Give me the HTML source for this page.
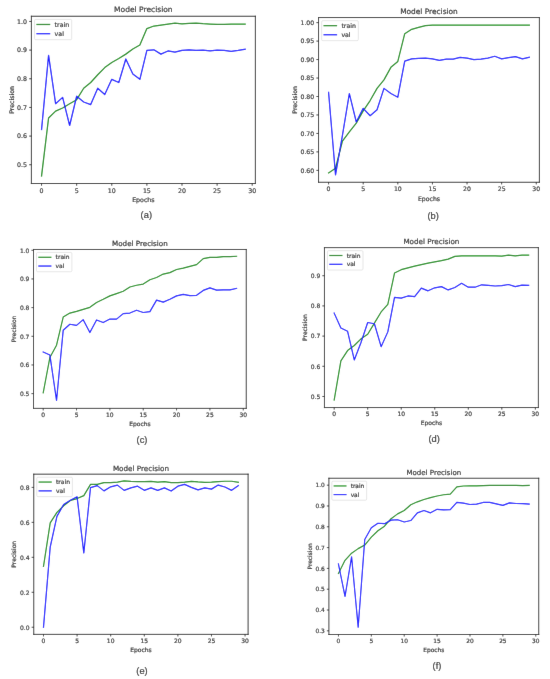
<!DOCTYPE html>
<html><head><meta charset="utf-8"><title>Model Precision</title>
<style>html,body{margin:0;padding:0;background:#fff;width:550px;height:679px;overflow:hidden}svg{display:block}#w{width:550px;height:679px}svg text{stroke:#303030;stroke-width:0.2px}</style>
</head><body><div id="w">
<svg width="550" height="679" viewBox="0 0 550 679"><filter id="bl" x="0" y="0" width="550" height="679" filterUnits="userSpaceOnUse"><feConvolveMatrix order="3" kernelMatrix="0.0028 0.0470 0.0028 0.0470 0.8008 0.0470 0.0028 0.0470 0.0028" edgeMode="duplicate"/></filter><g filter="url(#bl)">
<defs>
<style type="text/css">*{stroke-linejoin: round; stroke-linecap: butt}</style>
</defs>
<g id="figure_1">
<g id="patch_1">
<path d="M 0 679
L 550 679
L 550 0
L 0 0
z
" style="fill: #ffffff"/>
</g>
<g id="axes_1">
<g id="patch_2">
<path d="M 31.38 183.53
L 255.36 183.53
L 255.36 16.25
L 31.38 16.25
z
" style="fill: #ffffff"/>
</g>
<g id="matplotlib.axis_1">
<g id="xtick_1">
<g id="line2d_1">
<g>
<line x1="41.561" y1="183.530" x2="41.561" y2="185.728" style="stroke: #000000; stroke-width: 0.753475"/>
</g>
</g>
<g id="text_1">
<text style="font-size: 6.278958px; font-family: 'DejaVu Sans'; text-anchor: middle; fill: #303030" x="41.560909" y="192.696298" transform="rotate(-0 41.560909 192.696298)">0</text>
</g>
</g>
<g id="xtick_2">
<g id="line2d_2">
<g>
<line x1="76.667" y1="183.530" x2="76.667" y2="185.728" style="stroke: #000000; stroke-width: 0.753475"/>
</g>
</g>
<g id="text_2">
<text style="font-size: 6.278958px; font-family: 'DejaVu Sans'; text-anchor: middle; fill: #303030" x="76.667492" y="192.696298" transform="rotate(-0 76.667492 192.696298)">5</text>
</g>
</g>
<g id="xtick_3">
<g id="line2d_3">
<g>
<line x1="111.774" y1="183.530" x2="111.774" y2="185.728" style="stroke: #000000; stroke-width: 0.753475"/>
</g>
</g>
<g id="text_3">
<text style="font-size: 6.278958px; font-family: 'DejaVu Sans'; text-anchor: middle; fill: #303030" x="111.774075" y="192.696298" transform="rotate(-0 111.774075 192.696298)">10</text>
</g>
</g>
<g id="xtick_4">
<g id="line2d_4">
<g>
<line x1="146.881" y1="183.530" x2="146.881" y2="185.728" style="stroke: #000000; stroke-width: 0.753475"/>
</g>
</g>
<g id="text_4">
<text style="font-size: 6.278958px; font-family: 'DejaVu Sans'; text-anchor: middle; fill: #303030" x="146.880658" y="192.696298" transform="rotate(-0 146.880658 192.696298)">15</text>
</g>
</g>
<g id="xtick_5">
<g id="line2d_5">
<g>
<line x1="181.987" y1="183.530" x2="181.987" y2="185.728" style="stroke: #000000; stroke-width: 0.753475"/>
</g>
</g>
<g id="text_5">
<text style="font-size: 6.278958px; font-family: 'DejaVu Sans'; text-anchor: middle; fill: #303030" x="181.987241" y="192.696298" transform="rotate(-0 181.987241 192.696298)">20</text>
</g>
</g>
<g id="xtick_6">
<g id="line2d_6">
<g>
<line x1="217.094" y1="183.530" x2="217.094" y2="185.728" style="stroke: #000000; stroke-width: 0.753475"/>
</g>
</g>
<g id="text_6">
<text style="font-size: 6.278958px; font-family: 'DejaVu Sans'; text-anchor: middle; fill: #303030" x="217.093824" y="192.696298" transform="rotate(-0 217.093824 192.696298)">25</text>
</g>
</g>
<g id="xtick_7">
<g id="line2d_7">
<g>
<line x1="252.200" y1="183.530" x2="252.200" y2="185.728" style="stroke: #000000; stroke-width: 0.753475"/>
</g>
</g>
<g id="text_7">
<text style="font-size: 6.278958px; font-family: 'DejaVu Sans'; text-anchor: middle; fill: #303030" x="252.200408" y="192.696298" transform="rotate(-0 252.200408 192.696298)">30</text>
</g>
</g>
<g id="text_8">
<text style="font-size: 6.278958px; font-family: 'DejaVu Sans'; text-anchor: middle; fill: #303030" x="143.37" y="202.284735" transform="rotate(-0 143.37 202.284735)">Epochs</text>
</g>
</g>
<g id="matplotlib.axis_2">
<g id="ytick_1">
<g id="line2d_8">
<g>
<line x1="31.380" y1="164.749" x2="29.182" y2="164.749" style="stroke: #000000; stroke-width: 0.753475"/>
</g>
</g>
<g id="text_9">
<text style="font-size: 6.278958px; font-family: 'DejaVu Sans'; text-anchor: end; fill: #303030" x="26.984729" y="167.134596" transform="rotate(-0 26.984729 167.134596)">0.5</text>
</g>
</g>
<g id="ytick_2">
<g id="line2d_9">
<g>
<line x1="31.380" y1="136.089" x2="29.182" y2="136.089" style="stroke: #000000; stroke-width: 0.753475"/>
</g>
</g>
<g id="text_10">
<text style="font-size: 6.278958px; font-family: 'DejaVu Sans'; text-anchor: end; fill: #303030" x="26.984729" y="138.474565" transform="rotate(-0 26.984729 138.474565)">0.6</text>
</g>
</g>
<g id="ytick_3">
<g id="line2d_10">
<g>
<line x1="31.380" y1="107.429" x2="29.182" y2="107.429" style="stroke: #000000; stroke-width: 0.753475"/>
</g>
</g>
<g id="text_11">
<text style="font-size: 6.278958px; font-family: 'DejaVu Sans'; text-anchor: end; fill: #303030" x="26.984729" y="109.814535" transform="rotate(-0 26.984729 109.814535)">0.7</text>
</g>
</g>
<g id="ytick_4">
<g id="line2d_11">
<g>
<line x1="31.380" y1="78.769" x2="29.182" y2="78.769" style="stroke: #000000; stroke-width: 0.753475"/>
</g>
</g>
<g id="text_12">
<text style="font-size: 6.278958px; font-family: 'DejaVu Sans'; text-anchor: end; fill: #303030" x="26.984729" y="81.154504" transform="rotate(-0 26.984729 81.154504)">0.8</text>
</g>
</g>
<g id="ytick_5">
<g id="line2d_12">
<g>
<line x1="31.380" y1="50.109" x2="29.182" y2="50.109" style="stroke: #000000; stroke-width: 0.753475"/>
</g>
</g>
<g id="text_13">
<text style="font-size: 6.278958px; font-family: 'DejaVu Sans'; text-anchor: end; fill: #303030" x="26.984729" y="52.494474" transform="rotate(-0 26.984729 52.494474)">0.9</text>
</g>
</g>
<g id="ytick_6">
<g id="line2d_13">
<g>
<line x1="31.380" y1="21.449" x2="29.182" y2="21.449" style="stroke: #000000; stroke-width: 0.753475"/>
</g>
</g>
<g id="text_14">
<text style="font-size: 6.278958px; font-family: 'DejaVu Sans'; text-anchor: end; fill: #303030" x="26.984729" y="23.834443" transform="rotate(-0 26.984729 23.834443)">1.0</text>
</g>
</g>
<g id="text_15">
<text style="font-size: 6.278958px; font-family: 'DejaVu Sans'; text-anchor: middle; fill: #303030" x="13.581813" y="99.89" transform="rotate(-90 13.581813 99.89)">Precision</text>
</g>
</g>
<g id="line2d_14">
<path d="M 41.560909 175.926494
L 48.582226 118.033232
L 55.603542 111.154825
L 62.624859 108.002222
L 69.646176 103.703217
L 76.667492 99.690813
L 83.688809 88.226801
L 90.710125 82.494794
L 97.731442 74.756586
L 104.752759 67.591579
L 111.774075 62.432773
L 118.795392 58.420369
L 125.816708 54.121364
L 132.838025 48.962559
L 139.859342 44.950155
L 146.880658 28.613937
L 153.901975 26.034534
L 160.923292 25.031433
L 167.944608 24.171632
L 174.965925 23.168531
L 181.987241 23.885032
L 189.008558 23.311832
L 196.029875 23.168531
L 203.051191 23.741732
L 210.072508 24.028332
L 217.093824 24.314933
L 224.115141 24.314933
L 231.136458 24.028332
L 238.157774 24.028332
L 245.179091 24.028332
" clip-path="url(#p39e937fc63)" style="fill: none; stroke: #148c14; stroke-width: 1.255792; stroke-linecap: square"/>
</g>
<g id="line2d_15">
<path d="M 41.560909 129.497245
L 48.582226 55.267766
L 55.603542 103.703217
L 62.624859 97.39801
L 69.646176 125.48484
L 76.667492 96.251609
L 83.688809 101.983615
L 90.710125 104.563018
L 97.731442 88.226801
L 104.752759 94.532007
L 111.774075 79.342191
L 118.795392 82.494794
L 125.816708 58.993569
L 132.838025 73.896785
L 139.859342 79.342191
L 146.880658 50.39556
L 153.901975 49.82236
L 160.923292 54.121364
L 167.944608 50.968761
L 174.965925 52.115162
L 181.987241 50.39556
L 189.008558 49.82236
L 196.029875 50.39556
L 203.051191 50.10896
L 210.072508 50.968761
L 217.093824 50.10896
L 224.115141 50.39556
L 231.136458 51.255361
L 238.157774 50.39556
L 245.179091 49.249159
" clip-path="url(#p39e937fc63)" style="fill: none; stroke: #0a0aff; stroke-width: 1.255792; stroke-linecap: square"/>
</g>
<g id="patch_3">
<path d="M 31.38 183.53
L 31.38 16.25
" style="fill: none; stroke: #000000; stroke-width: 0.816265; stroke-linejoin: miter; stroke-linecap: square"/>
</g>
<g id="patch_4">
<path d="M 255.36 183.53
L 255.36 16.25
" style="fill: none; stroke: #000000; stroke-width: 0.816265; stroke-linejoin: miter; stroke-linecap: square"/>
</g>
<g id="patch_5">
<path d="M 31.38 183.53
L 255.36 183.53
" style="fill: none; stroke: #000000; stroke-width: 0.816265; stroke-linejoin: miter; stroke-linecap: square"/>
</g>
<g id="patch_6">
<path d="M 31.38 16.25
L 255.36 16.25
" style="fill: none; stroke: #000000; stroke-width: 0.816265; stroke-linejoin: miter; stroke-linecap: square"/>
</g>
<g id="text_16">
<text style="font-size: 7.53475px; font-family: 'DejaVu Sans'; text-anchor: middle; fill: #303030" x="143.37" y="12.482625" transform="rotate(-0 143.37 12.482625)">Model Precision</text>
</g>
<g id="legend_1">
<g id="patch_7">
<path d="M 35.775271 39.705833
L 70.482212 39.705833
Q 71.738004 39.705833 71.738004 38.450042
L 71.738004 20.645271
Q 71.738004 19.389479 70.482212 19.389479
L 35.775271 19.389479
Q 34.519479 19.389479 34.519479 20.645271
L 34.519479 38.450042
Q 34.519479 39.705833 35.775271 39.705833
z
" style="fill: #ffffff; opacity: 0.8; stroke: #cccccc; stroke-width: 0.627896; stroke-linejoin: miter"/>
</g>
<g id="line2d_16">
<path d="M 37.031062 24.474454
L 43.310021 24.474454
L 49.588979 24.474454
" style="fill: none; stroke: #148c14; stroke-width: 1.255792; stroke-linecap: square"/>
</g>
<g id="text_17">
<text style="font-size: 6.278958px; font-family: 'DejaVu Sans'; text-anchor: start; fill: #303030" x="54.612145" y="26.67209" transform="rotate(-0 54.612145 26.67209)">train</text>
</g>
<g id="line2d_17">
<path d="M 37.031062 33.690788
L 43.310021 33.690788
L 49.588979 33.690788
" style="fill: none; stroke: #0a0aff; stroke-width: 1.255792; stroke-linecap: square"/>
</g>
<g id="text_18">
<text style="font-size: 6.278958px; font-family: 'DejaVu Sans'; text-anchor: start; fill: #303030" x="54.612145" y="35.888423" transform="rotate(-0 54.612145 35.888423)">val</text>
</g>
</g>
</g>
<g id="axes_2">
<g id="patch_8">
<path d="M 318.55 182.27
L 539.38 182.27
L 539.38 17.56
L 318.55 17.56
z
" style="fill: #ffffff"/>
</g>
<g id="matplotlib.axis_3">
<g id="xtick_8">
<g id="line2d_18">
<g>
<line x1="328.588" y1="182.270" x2="328.588" y2="184.435" style="stroke: #000000; stroke-width: 0.742388"/>
</g>
</g>
<g id="text_19">
<text style="font-size: 6.186567px; font-family: 'DejaVu Sans'; text-anchor: middle; fill: #303030" x="328.587727" y="191.301422" transform="rotate(-0 328.587727 191.301422)">0</text>
</g>
</g>
<g id="xtick_9">
<g id="line2d_19">
<g>
<line x1="363.201" y1="182.270" x2="363.201" y2="184.435" style="stroke: #000000; stroke-width: 0.742388"/>
</g>
</g>
<g id="text_20">
<text style="font-size: 6.186567px; font-family: 'DejaVu Sans'; text-anchor: middle; fill: #303030" x="363.20058" y="191.301422" transform="rotate(-0 363.20058 191.301422)">5</text>
</g>
</g>
<g id="xtick_10">
<g id="line2d_20">
<g>
<line x1="397.813" y1="182.270" x2="397.813" y2="184.435" style="stroke: #000000; stroke-width: 0.742388"/>
</g>
</g>
<g id="text_21">
<text style="font-size: 6.186567px; font-family: 'DejaVu Sans'; text-anchor: middle; fill: #303030" x="397.813433" y="191.301422" transform="rotate(-0 397.813433 191.301422)">10</text>
</g>
</g>
<g id="xtick_11">
<g id="line2d_21">
<g>
<line x1="432.426" y1="182.270" x2="432.426" y2="184.435" style="stroke: #000000; stroke-width: 0.742388"/>
</g>
</g>
<g id="text_22">
<text style="font-size: 6.186567px; font-family: 'DejaVu Sans'; text-anchor: middle; fill: #303030" x="432.426285" y="191.301422" transform="rotate(-0 432.426285 191.301422)">15</text>
</g>
</g>
<g id="xtick_12">
<g id="line2d_22">
<g>
<line x1="467.039" y1="182.270" x2="467.039" y2="184.435" style="stroke: #000000; stroke-width: 0.742388"/>
</g>
</g>
<g id="text_23">
<text style="font-size: 6.186567px; font-family: 'DejaVu Sans'; text-anchor: middle; fill: #303030" x="467.039138" y="191.301422" transform="rotate(-0 467.039138 191.301422)">20</text>
</g>
</g>
<g id="xtick_13">
<g id="line2d_23">
<g>
<line x1="501.652" y1="182.270" x2="501.652" y2="184.435" style="stroke: #000000; stroke-width: 0.742388"/>
</g>
</g>
<g id="text_24">
<text style="font-size: 6.186567px; font-family: 'DejaVu Sans'; text-anchor: middle; fill: #303030" x="501.651991" y="191.301422" transform="rotate(-0 501.651991 191.301422)">25</text>
</g>
</g>
<g id="xtick_14">
<g id="line2d_24">
<g>
<line x1="536.265" y1="182.270" x2="536.265" y2="184.435" style="stroke: #000000; stroke-width: 0.742388"/>
</g>
</g>
<g id="text_25">
<text style="font-size: 6.186567px; font-family: 'DejaVu Sans'; text-anchor: middle; fill: #303030" x="536.264843" y="191.301422" transform="rotate(-0 536.264843 191.301422)">30</text>
</g>
</g>
<g id="text_26">
<text style="font-size: 6.186567px; font-family: 'DejaVu Sans'; text-anchor: middle; fill: #303030" x="428.965" y="200.763486" transform="rotate(-0 428.965 200.763486)">Epochs</text>
</g>
</g>
<g id="matplotlib.axis_4">
<g id="ytick_7">
<g id="line2d_25">
<g>
<line x1="318.550" y1="170.360" x2="316.385" y2="170.360" style="stroke: #000000; stroke-width: 0.742388"/>
</g>
</g>
<g id="text_27">
<text style="font-size: 6.186567px; font-family: 'DejaVu Sans'; text-anchor: end; fill: #303030" x="314.219403" y="172.710595" transform="rotate(-0 314.219403 172.710595)">0.60</text>
</g>
</g>
<g id="ytick_8">
<g id="line2d_26">
<g>
<line x1="318.550" y1="151.895" x2="316.385" y2="151.895" style="stroke: #000000; stroke-width: 0.742388"/>
</g>
</g>
<g id="text_28">
<text style="font-size: 6.186567px; font-family: 'DejaVu Sans'; text-anchor: end; fill: #303030" x="314.219403" y="154.245763" transform="rotate(-0 314.219403 154.245763)">0.65</text>
</g>
</g>
<g id="ytick_9">
<g id="line2d_27">
<g>
<line x1="318.550" y1="133.431" x2="316.385" y2="133.431" style="stroke: #000000; stroke-width: 0.742388"/>
</g>
</g>
<g id="text_29">
<text style="font-size: 6.186567px; font-family: 'DejaVu Sans'; text-anchor: end; fill: #303030" x="314.219403" y="135.78093" transform="rotate(-0 314.219403 135.78093)">0.70</text>
</g>
</g>
<g id="ytick_10">
<g id="line2d_28">
<g>
<line x1="318.550" y1="114.966" x2="316.385" y2="114.966" style="stroke: #000000; stroke-width: 0.742388"/>
</g>
</g>
<g id="text_30">
<text style="font-size: 6.186567px; font-family: 'DejaVu Sans'; text-anchor: end; fill: #303030" x="314.219403" y="117.316097" transform="rotate(-0 314.219403 117.316097)">0.75</text>
</g>
</g>
<g id="ytick_11">
<g id="line2d_29">
<g>
<line x1="318.550" y1="96.501" x2="316.385" y2="96.501" style="stroke: #000000; stroke-width: 0.742388"/>
</g>
</g>
<g id="text_31">
<text style="font-size: 6.186567px; font-family: 'DejaVu Sans'; text-anchor: end; fill: #303030" x="314.219403" y="98.851265" transform="rotate(-0 314.219403 98.851265)">0.80</text>
</g>
</g>
<g id="ytick_12">
<g id="line2d_30">
<g>
<line x1="318.550" y1="78.036" x2="316.385" y2="78.036" style="stroke: #000000; stroke-width: 0.742388"/>
</g>
</g>
<g id="text_32">
<text style="font-size: 6.186567px; font-family: 'DejaVu Sans'; text-anchor: end; fill: #303030" x="314.219403" y="80.386432" transform="rotate(-0 314.219403 80.386432)">0.85</text>
</g>
</g>
<g id="ytick_13">
<g id="line2d_31">
<g>
<line x1="318.550" y1="59.571" x2="316.385" y2="59.571" style="stroke: #000000; stroke-width: 0.742388"/>
</g>
</g>
<g id="text_33">
<text style="font-size: 6.186567px; font-family: 'DejaVu Sans'; text-anchor: end; fill: #303030" x="314.219403" y="61.9216" transform="rotate(-0 314.219403 61.9216)">0.90</text>
</g>
</g>
<g id="ytick_14">
<g id="line2d_32">
<g>
<line x1="318.550" y1="41.106" x2="316.385" y2="41.106" style="stroke: #000000; stroke-width: 0.742388"/>
</g>
</g>
<g id="text_34">
<text style="font-size: 6.186567px; font-family: 'DejaVu Sans'; text-anchor: end; fill: #303030" x="314.219403" y="43.456767" transform="rotate(-0 314.219403 43.456767)">0.95</text>
</g>
</g>
<g id="ytick_15">
<g id="line2d_33">
<g>
<line x1="318.550" y1="22.642" x2="316.385" y2="22.642" style="stroke: #000000; stroke-width: 0.742388"/>
</g>
</g>
<g id="text_35">
<text style="font-size: 6.186567px; font-family: 'DejaVu Sans'; text-anchor: end; fill: #303030" x="314.219403" y="24.991934" transform="rotate(-0 314.219403 24.991934)">1.00</text>
</g>
</g>
<g id="text_36">
<text style="font-size: 6.186567px; font-family: 'DejaVu Sans'; text-anchor: middle; fill: #303030" x="296.683384" y="99.915" transform="rotate(-90 296.683384 99.915)">Precision</text>
</g>
</g>
<g id="line2d_34">
<path d="M 328.587727 172.94526
L 335.510298 168.144403
L 342.432868 141.185747
L 349.355439 131.953331
L 356.278009 123.090211
L 363.20058 110.903422
L 370.12315 100.563116
L 377.045721 88.376326
L 383.968292 79.882503
L 390.890862 67.326417
L 397.813433 61.41767
L 404.736003 33.720422
L 411.658574 29.288862
L 418.581144 27.442378
L 425.503715 25.595895
L 432.426285 25.226599
L 439.348856 25.226599
L 446.271426 25.226599
L 453.193997 25.226599
L 460.116567 25.226599
L 467.039138 25.226599
L 473.961708 25.226599
L 480.884279 25.226599
L 487.80685 25.226599
L 494.72942 25.226599
L 501.651991 25.226599
L 508.574561 25.226599
L 515.497132 25.226599
L 522.419702 25.226599
L 529.342273 25.226599
" clip-path="url(#pbb9176d146)" style="fill: none; stroke: #148c14; stroke-width: 1.237313; stroke-linecap: square"/>
</g>
<g id="line2d_35">
<path d="M 328.587727 92.438589
L 335.510298 174.791743
L 342.432868 135.277001
L 349.355439 93.546479
L 356.278009 121.982321
L 363.20058 108.318345
L 370.12315 115.704278
L 377.045721 109.795532
L 383.968292 88.376326
L 390.890862 93.546479
L 397.813433 97.239446
L 404.736003 61.048374
L 411.658574 58.832594
L 418.581144 58.463297
L 425.503715 58.094001
L 432.426285 58.832594
L 439.348856 60.30978
L 446.271426 59.201891
L 453.193997 59.201891
L 460.116567 57.355407
L 467.039138 58.094001
L 473.961708 59.571187
L 480.884279 59.201891
L 487.80685 58.094001
L 494.72942 56.247517
L 501.651991 58.832594
L 508.574561 57.724704
L 515.497132 56.616814
L 522.419702 58.832594
L 529.342273 57.355407
" clip-path="url(#pbb9176d146)" style="fill: none; stroke: #0a0aff; stroke-width: 1.237313; stroke-linecap: square"/>
</g>
<g id="patch_9">
<path d="M 318.55 182.27
L 318.55 17.56
" style="fill: none; stroke: #000000; stroke-width: 0.804254; stroke-linejoin: miter; stroke-linecap: square"/>
</g>
<g id="patch_10">
<path d="M 539.38 182.27
L 539.38 17.56
" style="fill: none; stroke: #000000; stroke-width: 0.804254; stroke-linejoin: miter; stroke-linecap: square"/>
</g>
<g id="patch_11">
<path d="M 318.55 182.27
L 539.38 182.27
" style="fill: none; stroke: #000000; stroke-width: 0.804254; stroke-linejoin: miter; stroke-linecap: square"/>
</g>
<g id="patch_12">
<path d="M 318.55 17.56
L 539.38 17.56
" style="fill: none; stroke: #000000; stroke-width: 0.804254; stroke-linejoin: miter; stroke-linecap: square"/>
</g>
<g id="text_37">
<text style="font-size: 7.423881px; font-family: 'DejaVu Sans'; text-anchor: middle; fill: #303030" x="428.965" y="13.84806" transform="rotate(-0 428.965 13.84806)">Model Precision</text>
</g>
<g id="legend_2">
<g id="patch_13">
<path d="M 322.880597 40.670696
L 357.076849 40.670696
Q 358.314162 40.670696 358.314162 39.433383
L 358.314162 21.890597
Q 358.314162 20.653284 357.076849 20.653284
L 322.880597 20.653284
Q 321.643284 20.653284 321.643284 21.890597
L 321.643284 39.433383
Q 321.643284 40.670696 322.880597 40.670696
z
" style="fill: #ffffff; opacity: 0.8; stroke: #cccccc; stroke-width: 0.618657; stroke-linejoin: miter"/>
</g>
<g id="line2d_36">
<path d="M 324.117911 25.663437
L 330.304478 25.663437
L 336.491046 25.663437
" style="fill: none; stroke: #148c14; stroke-width: 1.237313; stroke-linecap: square"/>
</g>
<g id="text_38">
<text style="font-size: 6.186567px; font-family: 'DejaVu Sans'; text-anchor: start; fill: #303030" x="341.4403" y="27.828735" transform="rotate(-0 341.4403 27.828735)">train</text>
</g>
<g id="line2d_37">
<path d="M 324.117911 34.744158
L 330.304478 34.744158
L 336.491046 34.744158
" style="fill: none; stroke: #0a0aff; stroke-width: 1.237313; stroke-linecap: square"/>
</g>
<g id="text_39">
<text style="font-size: 6.186567px; font-family: 'DejaVu Sans'; text-anchor: start; fill: #303030" x="341.4403" y="36.909456" transform="rotate(-0 341.4403 36.909456)">val</text>
</g>
</g>
</g>
<g id="axes_3">
<g id="patch_14">
<path d="M 33.53 408.36
L 246.25 408.36
L 246.25 249.47
L 33.53 249.47
z
" style="fill: #ffffff"/>
</g>
<g id="matplotlib.axis_5">
<g id="xtick_15">
<g id="line2d_38">
<g>
<line x1="43.199" y1="408.360" x2="43.199" y2="410.447" style="stroke: #000000; stroke-width: 0.71564"/>
</g>
</g>
<g id="text_40">
<text style="font-size: 5.963668px; font-family: 'DejaVu Sans'; text-anchor: middle; fill: #303030" x="43.199091" y="417.066023" transform="rotate(-0 43.199091 417.066023)">0</text>
</g>
</g>
<g id="xtick_16">
<g id="line2d_39">
<g>
<line x1="76.541" y1="408.360" x2="76.541" y2="410.447" style="stroke: #000000; stroke-width: 0.71564"/>
</g>
</g>
<g id="text_41">
<text style="font-size: 5.963668px; font-family: 'DejaVu Sans'; text-anchor: middle; fill: #303030" x="76.540784" y="417.066023" transform="rotate(-0 76.540784 417.066023)">5</text>
</g>
</g>
<g id="xtick_17">
<g id="line2d_40">
<g>
<line x1="109.882" y1="408.360" x2="109.882" y2="410.447" style="stroke: #000000; stroke-width: 0.71564"/>
</g>
</g>
<g id="text_42">
<text style="font-size: 5.963668px; font-family: 'DejaVu Sans'; text-anchor: middle; fill: #303030" x="109.882476" y="417.066023" transform="rotate(-0 109.882476 417.066023)">10</text>
</g>
</g>
<g id="xtick_18">
<g id="line2d_41">
<g>
<line x1="143.224" y1="408.360" x2="143.224" y2="410.447" style="stroke: #000000; stroke-width: 0.71564"/>
</g>
</g>
<g id="text_43">
<text style="font-size: 5.963668px; font-family: 'DejaVu Sans'; text-anchor: middle; fill: #303030" x="143.224169" y="417.066023" transform="rotate(-0 143.224169 417.066023)">15</text>
</g>
</g>
<g id="xtick_19">
<g id="line2d_42">
<g>
<line x1="176.566" y1="408.360" x2="176.566" y2="410.447" style="stroke: #000000; stroke-width: 0.71564"/>
</g>
</g>
<g id="text_44">
<text style="font-size: 5.963668px; font-family: 'DejaVu Sans'; text-anchor: middle; fill: #303030" x="176.565862" y="417.066023" transform="rotate(-0 176.565862 417.066023)">20</text>
</g>
</g>
<g id="xtick_20">
<g id="line2d_43">
<g>
<line x1="209.908" y1="408.360" x2="209.908" y2="410.447" style="stroke: #000000; stroke-width: 0.71564"/>
</g>
</g>
<g id="text_45">
<text style="font-size: 5.963668px; font-family: 'DejaVu Sans'; text-anchor: middle; fill: #303030" x="209.907555" y="417.066023" transform="rotate(-0 209.907555 417.066023)">25</text>
</g>
</g>
<g id="xtick_21">
<g id="line2d_44">
<g>
<line x1="243.249" y1="408.360" x2="243.249" y2="410.447" style="stroke: #000000; stroke-width: 0.71564"/>
</g>
</g>
<g id="text_46">
<text style="font-size: 5.963668px; font-family: 'DejaVu Sans'; text-anchor: middle; fill: #303030" x="243.249248" y="417.066023" transform="rotate(-0 243.249248 417.066023)">30</text>
</g>
</g>
<g id="text_47">
<text style="font-size: 5.963668px; font-family: 'DejaVu Sans'; text-anchor: middle; fill: #303030" x="139.89" y="425.623202" transform="rotate(-0 139.89 425.623202)">Epochs</text>
</g>
</g>
<g id="matplotlib.axis_6">
<g id="ytick_16">
<g id="line2d_45">
<g>
<line x1="33.530" y1="393.639" x2="31.443" y2="393.639" style="stroke: #000000; stroke-width: 0.71564"/>
</g>
</g>
<g id="text_48">
<text style="font-size: 5.963668px; font-family: 'DejaVu Sans'; text-anchor: end; fill: #303030" x="29.355433" y="395.904611" transform="rotate(-0 29.355433 395.904611)">0.5</text>
</g>
</g>
<g id="ytick_17">
<g id="line2d_46">
<g>
<line x1="33.530" y1="364.965" x2="31.443" y2="364.965" style="stroke: #000000; stroke-width: 0.71564"/>
</g>
</g>
<g id="text_49">
<text style="font-size: 5.963668px; font-family: 'DejaVu Sans'; text-anchor: end; fill: #303030" x="29.355433" y="367.230834" transform="rotate(-0 29.355433 367.230834)">0.6</text>
</g>
</g>
<g id="ytick_18">
<g id="line2d_47">
<g>
<line x1="33.530" y1="336.291" x2="31.443" y2="336.291" style="stroke: #000000; stroke-width: 0.71564"/>
</g>
</g>
<g id="text_50">
<text style="font-size: 5.963668px; font-family: 'DejaVu Sans'; text-anchor: end; fill: #303030" x="29.355433" y="338.557057" transform="rotate(-0 29.355433 338.557057)">0.7</text>
</g>
</g>
<g id="ytick_19">
<g id="line2d_48">
<g>
<line x1="33.530" y1="307.618" x2="31.443" y2="307.618" style="stroke: #000000; stroke-width: 0.71564"/>
</g>
</g>
<g id="text_51">
<text style="font-size: 5.963668px; font-family: 'DejaVu Sans'; text-anchor: end; fill: #303030" x="29.355433" y="309.88328" transform="rotate(-0 29.355433 309.88328)">0.8</text>
</g>
</g>
<g id="ytick_20">
<g id="line2d_49">
<g>
<line x1="33.530" y1="278.944" x2="31.443" y2="278.944" style="stroke: #000000; stroke-width: 0.71564"/>
</g>
</g>
<g id="text_52">
<text style="font-size: 5.963668px; font-family: 'DejaVu Sans'; text-anchor: end; fill: #303030" x="29.355433" y="281.209503" transform="rotate(-0 29.355433 281.209503)">0.9</text>
</g>
</g>
<g id="ytick_21">
<g id="line2d_50">
<g>
<line x1="33.530" y1="250.270" x2="31.443" y2="250.270" style="stroke: #000000; stroke-width: 0.71564"/>
</g>
</g>
<g id="text_53">
<text style="font-size: 5.963668px; font-family: 'DejaVu Sans'; text-anchor: end; fill: #303030" x="29.355433" y="252.535726" transform="rotate(-0 29.355433 252.535726)">1.0</text>
</g>
</g>
<g id="text_54">
<text style="font-size: 5.963668px; font-family: 'DejaVu Sans'; text-anchor: middle; fill: #303030" x="16.245614" y="328.915" transform="rotate(-90 16.245614 328.915)">Precision</text>
</g>
</g>
<g id="line2d_51">
<path d="M 43.199091 392.77867
L 49.867429 357.509924
L 56.535768 345.1802
L 63.204107 317.079899
L 69.872445 313.06557
L 76.540784 311.345143
L 83.209122 309.337979
L 89.877461 307.330814
L 96.545799 302.456272
L 103.214138 299.302157
L 109.882476 295.861304
L 116.550815 293.567402
L 123.219154 291.273499
L 129.887492 286.972433
L 136.555831 285.252006
L 143.224169 284.105055
L 149.892508 279.803989
L 156.560846 277.510086
L 163.229185 274.069233
L 169.897524 272.635544
L 176.565862 269.481429
L 183.234201 268.04774
L 189.902539 266.327313
L 196.570878 264.606887
L 203.239216 258.585394
L 209.907555 257.438443
L 216.575893 257.438443
L 223.244232 256.578229
L 229.912571 256.578229
L 236.580909 256.291492
" clip-path="url(#p3941dd5a0d)" style="fill: none; stroke: #148c14; stroke-width: 1.192734; stroke-linecap: square"/>
</g>
<g id="line2d_52">
<path d="M 43.199091 352.061906
L 49.867429 354.929284
L 56.535768 400.520589
L 63.204107 330.269836
L 69.872445 324.248343
L 76.540784 325.395294
L 83.209122 319.660539
L 89.877461 332.563738
L 96.545799 319.947276
L 103.214138 322.527916
L 109.882476 319.087063
L 116.550815 319.087063
L 123.219154 313.639045
L 129.887492 313.06557
L 136.555831 310.198192
L 143.224169 312.492094
L 149.892508 311.631881
L 156.560846 300.16237
L 163.229185 302.169535
L 169.897524 299.302157
L 176.565862 295.861304
L 183.234201 294.427615
L 189.902539 295.574566
L 196.570878 295.287828
L 203.239216 290.413286
L 209.907555 287.832646
L 216.575893 290.126548
L 223.244232 289.839811
L 229.912571 289.839811
L 236.580909 288.406122
" clip-path="url(#p3941dd5a0d)" style="fill: none; stroke: #0a0aff; stroke-width: 1.192734; stroke-linecap: square"/>
</g>
<g id="patch_15">
<path d="M 33.53 408.36
L 33.53 249.47
" style="fill: none; stroke: #000000; stroke-width: 0.775277; stroke-linejoin: miter; stroke-linecap: square"/>
</g>
<g id="patch_16">
<path d="M 246.25 408.36
L 246.25 249.47
" style="fill: none; stroke: #000000; stroke-width: 0.775277; stroke-linejoin: miter; stroke-linecap: square"/>
</g>
<g id="patch_17">
<path d="M 33.53 408.36
L 246.25 408.36
" style="fill: none; stroke: #000000; stroke-width: 0.775277; stroke-linejoin: miter; stroke-linecap: square"/>
</g>
<g id="patch_18">
<path d="M 33.53 249.47
L 246.25 249.47
" style="fill: none; stroke: #000000; stroke-width: 0.775277; stroke-linejoin: miter; stroke-linecap: square"/>
</g>
<g id="text_55">
<text style="font-size: 7.156401px; font-family: 'DejaVu Sans'; text-anchor: middle; fill: #303030" x="139.89" y="245.891799" transform="rotate(-0 139.89 245.891799)">Model Precision</text>
</g>
<g id="legend_3">
<g id="patch_19">
<path d="M 37.704567 271.748026
L 70.668741 271.748026
Q 71.861474 271.748026 71.861474 270.555293
L 71.861474 253.644567
Q 71.861474 252.451834 70.668741 252.451834
L 37.704567 252.451834
Q 36.511834 252.451834 36.511834 253.644567
L 36.511834 270.555293
Q 36.511834 271.748026 37.704567 271.748026
z
" style="fill: #ffffff; opacity: 0.8; stroke: #cccccc; stroke-width: 0.596367; stroke-linejoin: miter"/>
</g>
<g id="line2d_53">
<path d="M 38.897301 257.281473
L 44.860969 257.281473
L 50.824636 257.281473
" style="fill: none; stroke: #148c14; stroke-width: 1.192734; stroke-linecap: square"/>
</g>
<g id="text_56">
<text style="font-size: 5.963668px; font-family: 'DejaVu Sans'; text-anchor: start; fill: #303030" x="55.595571" y="259.368757" transform="rotate(-0 55.595571 259.368757)">train</text>
</g>
<g id="line2d_54">
<path d="M 38.897301 266.035019
L 44.860969 266.035019
L 50.824636 266.035019
" style="fill: none; stroke: #0a0aff; stroke-width: 1.192734; stroke-linecap: square"/>
</g>
<g id="text_57">
<text style="font-size: 5.963668px; font-family: 'DejaVu Sans'; text-anchor: start; fill: #303030" x="55.595571" y="268.122303" transform="rotate(-0 55.595571 268.122303)">val</text>
</g>
</g>
</g>
<g id="axes_4">
<g id="patch_20">
<path d="M 324.45 407.55
L 538.36 407.55
L 538.36 247.64
L 324.45 247.64
z
" style="fill: #ffffff"/>
</g>
<g id="matplotlib.axis_7">
<g id="xtick_22">
<g id="line2d_55">
<g>
<line x1="334.173" y1="407.550" x2="334.173" y2="409.650" style="stroke: #000000; stroke-width: 0.719939"/>
</g>
</g>
<g id="text_58">
<text style="font-size: 5.999494px; font-family: 'DejaVu Sans'; text-anchor: middle; fill: #303030" x="334.173182" y="416.308323" transform="rotate(-0 334.173182 416.308323)">0</text>
</g>
</g>
<g id="xtick_23">
<g id="line2d_56">
<g>
<line x1="367.701" y1="407.550" x2="367.701" y2="409.650" style="stroke: #000000; stroke-width: 0.719939"/>
</g>
</g>
<g id="text_59">
<text style="font-size: 5.999494px; font-family: 'DejaVu Sans'; text-anchor: middle; fill: #303030" x="367.701395" y="416.308323" transform="rotate(-0 367.701395 416.308323)">5</text>
</g>
</g>
<g id="xtick_24">
<g id="line2d_57">
<g>
<line x1="401.230" y1="407.550" x2="401.230" y2="409.650" style="stroke: #000000; stroke-width: 0.719939"/>
</g>
</g>
<g id="text_60">
<text style="font-size: 5.999494px; font-family: 'DejaVu Sans'; text-anchor: middle; fill: #303030" x="401.229608" y="416.308323" transform="rotate(-0 401.229608 416.308323)">10</text>
</g>
</g>
<g id="xtick_25">
<g id="line2d_58">
<g>
<line x1="434.758" y1="407.550" x2="434.758" y2="409.650" style="stroke: #000000; stroke-width: 0.719939"/>
</g>
</g>
<g id="text_61">
<text style="font-size: 5.999494px; font-family: 'DejaVu Sans'; text-anchor: middle; fill: #303030" x="434.757821" y="416.308323" transform="rotate(-0 434.757821 416.308323)">15</text>
</g>
</g>
<g id="xtick_26">
<g id="line2d_59">
<g>
<line x1="468.286" y1="407.550" x2="468.286" y2="409.650" style="stroke: #000000; stroke-width: 0.719939"/>
</g>
</g>
<g id="text_62">
<text style="font-size: 5.999494px; font-family: 'DejaVu Sans'; text-anchor: middle; fill: #303030" x="468.286034" y="416.308323" transform="rotate(-0 468.286034 416.308323)">20</text>
</g>
</g>
<g id="xtick_27">
<g id="line2d_60">
<g>
<line x1="501.814" y1="407.550" x2="501.814" y2="409.650" style="stroke: #000000; stroke-width: 0.719939"/>
</g>
</g>
<g id="text_63">
<text style="font-size: 5.999494px; font-family: 'DejaVu Sans'; text-anchor: middle; fill: #303030" x="501.814248" y="416.308323" transform="rotate(-0 501.814248 416.308323)">25</text>
</g>
</g>
<g id="xtick_28">
<g id="line2d_61">
<g>
<line x1="535.342" y1="407.550" x2="535.342" y2="409.650" style="stroke: #000000; stroke-width: 0.719939"/>
</g>
</g>
<g id="text_64">
<text style="font-size: 5.999494px; font-family: 'DejaVu Sans'; text-anchor: middle; fill: #303030" x="535.342461" y="416.308323" transform="rotate(-0 535.342461 416.308323)">30</text>
</g>
</g>
<g id="text_65">
<text style="font-size: 5.999494px; font-family: 'DejaVu Sans'; text-anchor: middle; fill: #303030" x="431.405" y="425.014506" transform="rotate(-0 431.405 425.014506)">Epochs</text>
</g>
</g>
<g id="matplotlib.axis_8">
<g id="ytick_22">
<g id="line2d_62">
<g>
<line x1="324.450" y1="396.472" x2="322.350" y2="396.472" style="stroke: #000000; stroke-width: 0.719939"/>
</g>
</g>
<g id="text_66">
<text style="font-size: 5.999494px; font-family: 'DejaVu Sans'; text-anchor: end; fill: #303030" x="320.250354" y="398.751309" transform="rotate(-0 320.250354 398.751309)">0.5</text>
</g>
</g>
<g id="ytick_23">
<g id="line2d_63">
<g>
<line x1="324.450" y1="366.287" x2="322.350" y2="366.287" style="stroke: #000000; stroke-width: 0.719939"/>
</g>
</g>
<g id="text_67">
<text style="font-size: 5.999494px; font-family: 'DejaVu Sans'; text-anchor: end; fill: #303030" x="320.250354" y="368.565942" transform="rotate(-0 320.250354 368.565942)">0.6</text>
</g>
</g>
<g id="ytick_24">
<g id="line2d_64">
<g>
<line x1="324.450" y1="336.101" x2="322.350" y2="336.101" style="stroke: #000000; stroke-width: 0.719939"/>
</g>
</g>
<g id="text_68">
<text style="font-size: 5.999494px; font-family: 'DejaVu Sans'; text-anchor: end; fill: #303030" x="320.250354" y="338.380575" transform="rotate(-0 320.250354 338.380575)">0.7</text>
</g>
</g>
<g id="ytick_25">
<g id="line2d_65">
<g>
<line x1="324.450" y1="305.916" x2="322.350" y2="305.916" style="stroke: #000000; stroke-width: 0.719939"/>
</g>
</g>
<g id="text_69">
<text style="font-size: 5.999494px; font-family: 'DejaVu Sans'; text-anchor: end; fill: #303030" x="320.250354" y="308.195208" transform="rotate(-0 320.250354 308.195208)">0.8</text>
</g>
</g>
<g id="ytick_26">
<g id="line2d_66">
<g>
<line x1="324.450" y1="275.731" x2="322.350" y2="275.731" style="stroke: #000000; stroke-width: 0.719939"/>
</g>
</g>
<g id="text_70">
<text style="font-size: 5.999494px; font-family: 'DejaVu Sans'; text-anchor: end; fill: #303030" x="320.250354" y="278.009841" transform="rotate(-0 320.250354 278.009841)">0.9</text>
</g>
</g>
<g id="text_71">
<text style="font-size: 5.999494px; font-family: 'DejaVu Sans'; text-anchor: middle; fill: #303030" x="307.06178" y="327.595" transform="rotate(-90 307.06178 327.595)">Precision</text>
</g>
</g>
<g id="line2d_67">
<path d="M 334.173182 400.094214
L 340.878824 360.853237
L 347.584467 350.590213
L 354.29011 345.4587
L 360.995752 338.817919
L 367.701395 334.290114
L 374.407038 323.121529
L 381.11268 311.952943
L 387.818323 304.406601
L 394.523966 273.013819
L 401.229608 269.693429
L 407.935251 267.882307
L 414.640893 266.071185
L 421.346536 264.561917
L 428.052179 263.052648
L 434.757821 261.845234
L 441.463464 260.637819
L 448.169107 259.128551
L 454.874749 256.411868
L 461.580392 255.80816
L 468.286034 255.80816
L 474.991677 255.80816
L 481.69732 255.80816
L 488.402962 255.80816
L 495.108605 255.80816
L 501.814248 256.110014
L 508.51989 255.204453
L 515.225533 255.80816
L 521.931176 255.204453
L 528.636818 255.204453
" clip-path="url(#p610da3b4ec)" style="fill: none; stroke: #148c14; stroke-width: 1.199899; stroke-linecap: square"/>
</g>
<g id="line2d_68">
<path d="M 334.173182 313.160358
L 340.878824 327.951187
L 347.584467 331.271578
L 354.29011 359.947676
L 360.995752 342.440163
L 367.701395 322.517821
L 374.407038 323.725236
L 381.11268 346.666115
L 387.818323 331.875285
L 394.523966 297.463967
L 401.229608 298.067674
L 407.935251 295.954698
L 414.640893 296.558406
L 421.346536 288.106503
L 428.052179 290.823186
L 434.757821 287.804649
L 441.463464 286.597235
L 448.169107 289.917625
L 454.874749 287.502796
L 461.580392 283.276844
L 468.286034 287.200942
L 474.991677 287.200942
L 481.69732 284.786113
L 488.402962 285.38982
L 495.108605 285.993527
L 501.814248 285.691674
L 508.51989 284.484259
L 515.225533 286.597235
L 521.931176 285.087966
L 528.636818 285.38982
" clip-path="url(#p610da3b4ec)" style="fill: none; stroke: #0a0aff; stroke-width: 1.199899; stroke-linecap: square"/>
</g>
<g id="patch_21">
<path d="M 324.45 407.55
L 324.45 247.64
" style="fill: none; stroke: #000000; stroke-width: 0.779934; stroke-linejoin: miter; stroke-linecap: square"/>
</g>
<g id="patch_22">
<path d="M 538.36 407.55
L 538.36 247.64
" style="fill: none; stroke: #000000; stroke-width: 0.779934; stroke-linejoin: miter; stroke-linecap: square"/>
</g>
<g id="patch_23">
<path d="M 324.45 407.55
L 538.36 407.55
" style="fill: none; stroke: #000000; stroke-width: 0.779934; stroke-linejoin: miter; stroke-linecap: square"/>
</g>
<g id="patch_24">
<path d="M 324.45 247.64
L 538.36 247.64
" style="fill: none; stroke: #000000; stroke-width: 0.779934; stroke-linejoin: miter; stroke-linecap: square"/>
</g>
<g id="text_72">
<text style="font-size: 7.199392px; font-family: 'DejaVu Sans'; text-anchor: middle; fill: #303030" x="431.405" y="244.040304" transform="rotate(-0 431.405 244.040304)">Model Precision</text>
</g>
<g id="legend_4">
<g id="patch_25">
<path d="M 328.649646 270.051859
L 361.811847 270.051859
Q 363.011746 270.051859 363.011746 268.85196
L 363.011746 251.839646
Q 363.011746 250.639747 361.811847 250.639747
L 328.649646 250.639747
Q 327.449747 250.639747 327.449747 251.839646
L 327.449747 268.85196
Q 327.449747 270.051859 328.649646 270.051859
z
" style="fill: #ffffff; opacity: 0.8; stroke: #cccccc; stroke-width: 0.599949; stroke-linejoin: miter"/>
</g>
<g id="line2d_69">
<path d="M 329.849544 255.498399
L 335.849038 255.498399
L 341.848532 255.498399
" style="fill: none; stroke: #148c14; stroke-width: 1.199899; stroke-linecap: square"/>
</g>
<g id="text_73">
<text style="font-size: 5.999494px; font-family: 'DejaVu Sans'; text-anchor: start; fill: #303030" x="346.648127" y="257.598222" transform="rotate(-0 346.648127 257.598222)">train</text>
</g>
<g id="line2d_70">
<path d="M 329.849544 264.304531
L 335.849038 264.304531
L 341.848532 264.304531
" style="fill: none; stroke: #0a0aff; stroke-width: 1.199899; stroke-linecap: square"/>
</g>
<g id="text_74">
<text style="font-size: 5.999494px; font-family: 'DejaVu Sans'; text-anchor: start; fill: #303030" x="346.648127" y="266.404354" transform="rotate(-0 346.648127 266.404354)">val</text>
</g>
</g>
</g>
<g id="axes_5">
<g id="patch_26">
<path d="M 33.75 634.36
L 248.1 634.36
L 248.1 474.18
L 33.75 474.18
z
" style="fill: #ffffff"/>
</g>
<g id="matplotlib.axis_9">
<g id="xtick_29">
<g id="line2d_71">
<g>
<line x1="43.493" y1="634.360" x2="43.493" y2="636.464" style="stroke: #000000; stroke-width: 0.721287"/>
</g>
</g>
<g id="text_75">
<text style="font-size: 6.010727px; font-family: 'DejaVu Sans'; text-anchor: middle; fill: #303030" x="43.493182" y="643.134722" transform="rotate(-0 43.493182 643.134722)">0</text>
</g>
</g>
<g id="xtick_30">
<g id="line2d_72">
<g>
<line x1="77.090" y1="634.360" x2="77.090" y2="636.464" style="stroke: #000000; stroke-width: 0.721287"/>
</g>
</g>
<g id="text_76">
<text style="font-size: 6.010727px; font-family: 'DejaVu Sans'; text-anchor: middle; fill: #303030" x="77.090361" y="643.134722" transform="rotate(-0 77.090361 643.134722)">5</text>
</g>
</g>
<g id="xtick_31">
<g id="line2d_73">
<g>
<line x1="110.688" y1="634.360" x2="110.688" y2="636.464" style="stroke: #000000; stroke-width: 0.721287"/>
</g>
</g>
<g id="text_77">
<text style="font-size: 6.010727px; font-family: 'DejaVu Sans'; text-anchor: middle; fill: #303030" x="110.687539" y="643.134722" transform="rotate(-0 110.687539 643.134722)">10</text>
</g>
</g>
<g id="xtick_32">
<g id="line2d_74">
<g>
<line x1="144.285" y1="634.360" x2="144.285" y2="636.464" style="stroke: #000000; stroke-width: 0.721287"/>
</g>
</g>
<g id="text_78">
<text style="font-size: 6.010727px; font-family: 'DejaVu Sans'; text-anchor: middle; fill: #303030" x="144.284718" y="643.134722" transform="rotate(-0 144.284718 643.134722)">15</text>
</g>
</g>
<g id="xtick_33">
<g id="line2d_75">
<g>
<line x1="177.882" y1="634.360" x2="177.882" y2="636.464" style="stroke: #000000; stroke-width: 0.721287"/>
</g>
</g>
<g id="text_79">
<text style="font-size: 6.010727px; font-family: 'DejaVu Sans'; text-anchor: middle; fill: #303030" x="177.881897" y="643.134722" transform="rotate(-0 177.881897 643.134722)">20</text>
</g>
</g>
<g id="xtick_34">
<g id="line2d_76">
<g>
<line x1="211.479" y1="634.360" x2="211.479" y2="636.464" style="stroke: #000000; stroke-width: 0.721287"/>
</g>
</g>
<g id="text_80">
<text style="font-size: 6.010727px; font-family: 'DejaVu Sans'; text-anchor: middle; fill: #303030" x="211.479075" y="643.134722" transform="rotate(-0 211.479075 643.134722)">25</text>
</g>
</g>
<g id="xtick_35">
<g id="line2d_77">
<g>
<line x1="245.076" y1="634.360" x2="245.076" y2="636.464" style="stroke: #000000; stroke-width: 0.721287"/>
</g>
</g>
<g id="text_81">
<text style="font-size: 6.010727px; font-family: 'DejaVu Sans'; text-anchor: middle; fill: #303030" x="245.076254" y="643.134722" transform="rotate(-0 245.076254 643.134722)">30</text>
</g>
</g>
<g id="text_82">
<text style="font-size: 6.010727px; font-family: 'DejaVu Sans'; text-anchor: middle; fill: #303030" x="140.925" y="651.85627" transform="rotate(-0 140.925 651.85627)">Epochs</text>
</g>
</g>
<g id="matplotlib.axis_10">
<g id="ytick_27">
<g id="line2d_78">
<g>
<line x1="33.750" y1="627.249" x2="31.646" y2="627.249" style="stroke: #000000; stroke-width: 0.721287"/>
</g>
</g>
<g id="text_83">
<text style="font-size: 6.010727px; font-family: 'DejaVu Sans'; text-anchor: end; fill: #303030" x="29.542491" y="629.533004" transform="rotate(-0 29.542491 629.533004)">0.0</text>
</g>
</g>
<g id="ytick_28">
<g id="line2d_79">
<g>
<line x1="33.750" y1="592.282" x2="31.646" y2="592.282" style="stroke: #000000; stroke-width: 0.721287"/>
</g>
</g>
<g id="text_84">
<text style="font-size: 6.010727px; font-family: 'DejaVu Sans'; text-anchor: end; fill: #303030" x="29.542491" y="594.565695" transform="rotate(-0 29.542491 594.565695)">0.2</text>
</g>
</g>
<g id="ytick_29">
<g id="line2d_80">
<g>
<line x1="33.750" y1="557.315" x2="31.646" y2="557.315" style="stroke: #000000; stroke-width: 0.721287"/>
</g>
</g>
<g id="text_85">
<text style="font-size: 6.010727px; font-family: 'DejaVu Sans'; text-anchor: end; fill: #303030" x="29.542491" y="559.598385" transform="rotate(-0 29.542491 559.598385)">0.4</text>
</g>
</g>
<g id="ytick_30">
<g id="line2d_81">
<g>
<line x1="33.750" y1="522.347" x2="31.646" y2="522.347" style="stroke: #000000; stroke-width: 0.721287"/>
</g>
</g>
<g id="text_86">
<text style="font-size: 6.010727px; font-family: 'DejaVu Sans'; text-anchor: end; fill: #303030" x="29.542491" y="524.631076" transform="rotate(-0 29.542491 524.631076)">0.6</text>
</g>
</g>
<g id="ytick_31">
<g id="line2d_82">
<g>
<line x1="33.750" y1="487.380" x2="31.646" y2="487.380" style="stroke: #000000; stroke-width: 0.721287"/>
</g>
</g>
<g id="text_87">
<text style="font-size: 6.010727px; font-family: 'DejaVu Sans'; text-anchor: end; fill: #303030" x="29.542491" y="489.663766" transform="rotate(-0 29.542491 489.663766)">0.8</text>
</g>
</g>
<g id="text_88">
<text style="font-size: 6.010727px; font-family: 'DejaVu Sans'; text-anchor: middle; fill: #303030" x="16.329222" y="554.27" transform="rotate(-90 16.329222 554.27)">Precision</text>
</g>
</g>
<g id="line2d_83">
<path d="M 43.493182 566.406279
L 50.212618 522.871979
L 56.932053 512.381786
L 63.651489 505.737997
L 70.370925 500.4929
L 77.090361 498.569698
L 83.809796 495.597477
L 90.529232 484.407938
L 97.248668 484.407938
L 103.968103 482.659573
L 110.687539 482.659573
L 117.406975 482.135063
L 124.126411 480.911207
L 130.845846 481.435717
L 137.565282 481.610553
L 144.284718 481.610553
L 151.004154 481.435717
L 157.723589 482.135063
L 164.443025 481.610553
L 171.162461 482.659573
L 177.881897 482.659573
L 184.601332 482.135063
L 191.320768 481.435717
L 198.040204 481.960226
L 204.759639 482.309899
L 211.479075 482.135063
L 218.198511 481.610553
L 224.917947 481.26088
L 231.637382 481.26088
L 238.356818 482.309899
" clip-path="url(#pcd44524e48)" style="fill: none; stroke: #148c14; stroke-width: 1.202145; stroke-linecap: square"/>
</g>
<g id="line2d_84">
<path d="M 43.493182 627.249398
L 50.212618 546.999422
L 56.932053 516.403026
L 63.651489 504.514141
L 70.370925 500.318064
L 77.090361 496.821333
L 83.809796 552.943865
L 90.529232 487.554996
L 97.248668 485.631794
L 103.968103 490.87689
L 110.687539 486.85565
L 117.406975 485.107284
L 124.126411 490.352381
L 130.845846 487.904669
L 137.565282 486.156304
L 144.284718 490.352381
L 151.004154 487.904669
L 157.723589 490.352381
L 164.443025 487.904669
L 171.162461 491.051727
L 177.881897 486.156304
L 184.601332 484.407938
L 191.320768 487.380159
L 198.040204 489.827871
L 204.759639 487.904669
L 211.479075 489.128525
L 218.198511 485.107284
L 224.917947 487.030486
L 231.637382 490.352381
L 238.356818 485.631794
" clip-path="url(#pcd44524e48)" style="fill: none; stroke: #0a0aff; stroke-width: 1.202145; stroke-linecap: square"/>
</g>
<g id="patch_27">
<path d="M 33.75 634.36
L 33.75 474.18
" style="fill: none; stroke: #000000; stroke-width: 0.781395; stroke-linejoin: miter; stroke-linecap: square"/>
</g>
<g id="patch_28">
<path d="M 248.1 634.36
L 248.1 474.18
" style="fill: none; stroke: #000000; stroke-width: 0.781395; stroke-linejoin: miter; stroke-linecap: square"/>
</g>
<g id="patch_29">
<path d="M 33.75 634.36
L 248.1 634.36
" style="fill: none; stroke: #000000; stroke-width: 0.781395; stroke-linejoin: miter; stroke-linecap: square"/>
</g>
<g id="patch_30">
<path d="M 33.75 474.18
L 248.1 474.18
" style="fill: none; stroke: #000000; stroke-width: 0.781395; stroke-linejoin: miter; stroke-linecap: square"/>
</g>
<g id="text_89">
<text style="font-size: 7.212873px; font-family: 'DejaVu Sans'; text-anchor: middle; fill: #303030" x="140.925" y="470.573564" transform="rotate(-0 140.925 470.573564)">Model Precision</text>
</g>
<g id="legend_5">
<g id="patch_31">
<path d="M 37.957509 496.633822
L 71.181803 496.633822
Q 72.383949 496.633822 72.383949 495.431677
L 72.383949 478.387509
Q 72.383949 477.185364 71.181803 477.185364
L 37.957509 477.185364
Q 36.755364 477.185364 36.755364 478.387509
L 36.755364 495.431677
Q 36.755364 496.633822 37.957509 496.633822
z
" style="fill: #ffffff; opacity: 0.8; stroke: #cccccc; stroke-width: 0.601073; stroke-linejoin: miter"/>
</g>
<g id="line2d_85">
<path d="M 39.159654 482.053113
L 45.170382 482.053113
L 51.181109 482.053113
" style="fill: none; stroke: #148c14; stroke-width: 1.202145; stroke-linecap: square"/>
</g>
<g id="text_90">
<text style="font-size: 6.010727px; font-family: 'DejaVu Sans'; text-anchor: start; fill: #303030" x="55.98969" y="484.156868" transform="rotate(-0 55.98969 484.156868)">train</text>
</g>
<g id="line2d_86">
<path d="M 39.159654 490.875734
L 45.170382 490.875734
L 51.181109 490.875734
" style="fill: none; stroke: #0a0aff; stroke-width: 1.202145; stroke-linecap: square"/>
</g>
<g id="text_91">
<text style="font-size: 6.010727px; font-family: 'DejaVu Sans'; text-anchor: start; fill: #303030" x="55.98969" y="492.979488" transform="rotate(-0 55.98969 492.979488)">val</text>
</g>
</g>
</g>
<g id="axes_6">
<g id="patch_32">
<path d="M 328.9 634.5
L 538.73 634.5
L 538.73 478.25
L 328.9 478.25
z
" style="fill: #ffffff"/>
</g>
<g id="matplotlib.axis_11">
<g id="xtick_36">
<g id="line2d_87">
<g>
<line x1="338.438" y1="634.500" x2="338.438" y2="636.556" style="stroke: #000000; stroke-width: 0.704832"/>
</g>
</g>
<g id="text_92">
<text style="font-size: 5.873602px; font-family: 'DejaVu Sans'; text-anchor: middle; fill: #303030" x="338.437727" y="643.074541" transform="rotate(-0 338.437727 643.074541)">0</text>
</g>
</g>
<g id="xtick_37">
<g id="line2d_88">
<g>
<line x1="371.326" y1="634.500" x2="371.326" y2="636.556" style="stroke: #000000; stroke-width: 0.704832"/>
</g>
</g>
<g id="text_93">
<text style="font-size: 5.873602px; font-family: 'DejaVu Sans'; text-anchor: middle; fill: #303030" x="371.326442" y="643.074541" transform="rotate(-0 371.326442 643.074541)">5</text>
</g>
</g>
<g id="xtick_38">
<g id="line2d_89">
<g>
<line x1="404.215" y1="634.500" x2="404.215" y2="636.556" style="stroke: #000000; stroke-width: 0.704832"/>
</g>
</g>
<g id="text_94">
<text style="font-size: 5.873602px; font-family: 'DejaVu Sans'; text-anchor: middle; fill: #303030" x="404.215157" y="643.074541" transform="rotate(-0 404.215157 643.074541)">10</text>
</g>
</g>
<g id="xtick_39">
<g id="line2d_90">
<g>
<line x1="437.104" y1="634.500" x2="437.104" y2="636.556" style="stroke: #000000; stroke-width: 0.704832"/>
</g>
</g>
<g id="text_95">
<text style="font-size: 5.873602px; font-family: 'DejaVu Sans'; text-anchor: middle; fill: #303030" x="437.103871" y="643.074541" transform="rotate(-0 437.103871 643.074541)">15</text>
</g>
</g>
<g id="xtick_40">
<g id="line2d_91">
<g>
<line x1="469.993" y1="634.500" x2="469.993" y2="636.556" style="stroke: #000000; stroke-width: 0.704832"/>
</g>
</g>
<g id="text_96">
<text style="font-size: 5.873602px; font-family: 'DejaVu Sans'; text-anchor: middle; fill: #303030" x="469.992586" y="643.074541" transform="rotate(-0 469.992586 643.074541)">20</text>
</g>
</g>
<g id="xtick_41">
<g id="line2d_92">
<g>
<line x1="502.881" y1="634.500" x2="502.881" y2="636.556" style="stroke: #000000; stroke-width: 0.704832"/>
</g>
</g>
<g id="text_97">
<text style="font-size: 5.873602px; font-family: 'DejaVu Sans'; text-anchor: middle; fill: #303030" x="502.881301" y="643.074541" transform="rotate(-0 502.881301 643.074541)">25</text>
</g>
</g>
<g id="xtick_42">
<g id="line2d_93">
<g>
<line x1="535.770" y1="634.500" x2="535.770" y2="636.556" style="stroke: #000000; stroke-width: 0.704832"/>
</g>
</g>
<g id="text_98">
<text style="font-size: 5.873602px; font-family: 'DejaVu Sans'; text-anchor: middle; fill: #303030" x="535.770016" y="643.074541" transform="rotate(-0 535.770016 643.074541)">30</text>
</g>
</g>
<g id="text_99">
<text style="font-size: 5.873602px; font-family: 'DejaVu Sans'; text-anchor: middle; fill: #303030" x="433.815" y="651.608527" transform="rotate(-0 433.815 651.608527)">Epochs</text>
</g>
</g>
<g id="matplotlib.axis_12">
<g id="ytick_32">
<g id="line2d_94">
<g>
<line x1="328.900" y1="630.819" x2="326.844" y2="630.819" style="stroke: #000000; stroke-width: 0.704832"/>
</g>
</g>
<g id="text_100">
<text style="font-size: 5.873602px; font-family: 'DejaVu Sans'; text-anchor: end; fill: #303030" x="324.788479" y="633.050952" transform="rotate(-0 324.788479 633.050952)">0.3</text>
</g>
</g>
<g id="ytick_33">
<g id="line2d_95">
<g>
<line x1="328.900" y1="610.014" x2="326.844" y2="610.014" style="stroke: #000000; stroke-width: 0.704832"/>
</g>
</g>
<g id="text_101">
<text style="font-size: 5.873602px; font-family: 'DejaVu Sans'; text-anchor: end; fill: #303030" x="324.788479" y="612.245082" transform="rotate(-0 324.788479 612.245082)">0.4</text>
</g>
</g>
<g id="ytick_34">
<g id="line2d_96">
<g>
<line x1="328.900" y1="589.208" x2="326.844" y2="589.208" style="stroke: #000000; stroke-width: 0.704832"/>
</g>
</g>
<g id="text_102">
<text style="font-size: 5.873602px; font-family: 'DejaVu Sans'; text-anchor: end; fill: #303030" x="324.788479" y="591.439212" transform="rotate(-0 324.788479 591.439212)">0.5</text>
</g>
</g>
<g id="ytick_35">
<g id="line2d_97">
<g>
<line x1="328.900" y1="568.402" x2="326.844" y2="568.402" style="stroke: #000000; stroke-width: 0.704832"/>
</g>
</g>
<g id="text_103">
<text style="font-size: 5.873602px; font-family: 'DejaVu Sans'; text-anchor: end; fill: #303030" x="324.788479" y="570.633343" transform="rotate(-0 324.788479 570.633343)">0.6</text>
</g>
</g>
<g id="ytick_36">
<g id="line2d_98">
<g>
<line x1="328.900" y1="547.596" x2="326.844" y2="547.596" style="stroke: #000000; stroke-width: 0.704832"/>
</g>
</g>
<g id="text_104">
<text style="font-size: 5.873602px; font-family: 'DejaVu Sans'; text-anchor: end; fill: #303030" x="324.788479" y="549.827473" transform="rotate(-0 324.788479 549.827473)">0.7</text>
</g>
</g>
<g id="ytick_37">
<g id="line2d_99">
<g>
<line x1="328.900" y1="526.790" x2="326.844" y2="526.790" style="stroke: #000000; stroke-width: 0.704832"/>
</g>
</g>
<g id="text_105">
<text style="font-size: 5.873602px; font-family: 'DejaVu Sans'; text-anchor: end; fill: #303030" x="324.788479" y="529.021604" transform="rotate(-0 324.788479 529.021604)">0.8</text>
</g>
</g>
<g id="ytick_38">
<g id="line2d_100">
<g>
<line x1="328.900" y1="505.984" x2="326.844" y2="505.984" style="stroke: #000000; stroke-width: 0.704832"/>
</g>
</g>
<g id="text_106">
<text style="font-size: 5.873602px; font-family: 'DejaVu Sans'; text-anchor: end; fill: #303030" x="324.788479" y="508.215734" transform="rotate(-0 324.788479 508.215734)">0.9</text>
</g>
</g>
<g id="ytick_39">
<g id="line2d_101">
<g>
<line x1="328.900" y1="485.178" x2="326.844" y2="485.178" style="stroke: #000000; stroke-width: 0.704832"/>
</g>
</g>
<g id="text_107">
<text style="font-size: 5.873602px; font-family: 'DejaVu Sans'; text-anchor: end; fill: #303030" x="324.788479" y="487.409864" transform="rotate(-0 324.788479 487.409864)">1.0</text>
</g>
</g>
<g id="text_108">
<text style="font-size: 5.873602px; font-family: 'DejaVu Sans'; text-anchor: middle; fill: #303030" x="311.87665" y="556.375" transform="rotate(-90 311.87665 556.375)">Precision</text>
</g>
</g>
<g id="line2d_102">
<path d="M 338.437727 573.395242
L 345.01547 560.287544
L 351.593213 553.213548
L 358.170956 548.636257
L 364.748699 545.099259
L 371.326442 537.193029
L 377.904185 530.743209
L 384.481928 526.165918
L 391.059671 518.675805
L 397.637414 513.890455
L 404.215157 510.561515
L 410.7929 504.735872
L 417.370643 501.82305
L 423.948386 499.534405
L 430.526129 497.661876
L 437.103871 495.997407
L 443.681614 494.749055
L 450.259357 494.124878
L 456.8371 486.842824
L 463.414843 486.010589
L 469.992586 485.802531
L 476.570329 485.802531
L 483.148072 485.594472
L 489.725815 485.386413
L 496.303558 485.386413
L 502.881301 485.386413
L 509.459044 485.386413
L 516.036787 485.386413
L 522.61453 485.594472
L 529.192273 485.386413
" clip-path="url(#p84dc06864a)" style="fill: none; stroke: #148c14; stroke-width: 1.17472; stroke-linecap: square"/>
</g>
<g id="line2d_103">
<path d="M 338.437727 564.0326
L 345.01547 596.489757
L 351.593213 556.750546
L 358.170956 627.282444
L 364.748699 539.481674
L 371.326442 527.830387
L 377.904185 523.253096
L 384.481928 523.669213
L 391.059671 520.132215
L 397.637414 519.716098
L 404.215157 522.004744
L 410.7929 520.548333
L 417.370643 512.850161
L 423.948386 510.561515
L 430.526129 512.850161
L 437.103871 509.313163
L 443.681614 509.937339
L 450.259357 509.729281
L 456.8371 502.447226
L 463.414843 503.071402
L 469.992586 504.527813
L 476.570329 504.111696
L 483.148072 502.447226
L 489.725815 502.447226
L 496.303558 503.903637
L 502.881301 505.360048
L 509.459044 502.863344
L 516.036787 503.48752
L 522.61453 503.695579
L 529.192273 504.111696
" clip-path="url(#p84dc06864a)" style="fill: none; stroke: #0a0aff; stroke-width: 1.17472; stroke-linecap: square"/>
</g>
<g id="patch_33">
<path d="M 328.9 634.5
L 328.9 478.25
" style="fill: none; stroke: #000000; stroke-width: 0.763568; stroke-linejoin: miter; stroke-linecap: square"/>
</g>
<g id="patch_34">
<path d="M 538.73 634.5
L 538.73 478.25
" style="fill: none; stroke: #000000; stroke-width: 0.763568; stroke-linejoin: miter; stroke-linecap: square"/>
</g>
<g id="patch_35">
<path d="M 328.9 634.5
L 538.73 634.5
" style="fill: none; stroke: #000000; stroke-width: 0.763568; stroke-linejoin: miter; stroke-linecap: square"/>
</g>
<g id="patch_36">
<path d="M 328.9 478.25
L 538.73 478.25
" style="fill: none; stroke: #000000; stroke-width: 0.763568; stroke-linejoin: miter; stroke-linecap: square"/>
</g>
<g id="text_109">
<text style="font-size: 7.048322px; font-family: 'DejaVu Sans'; text-anchor: middle; fill: #303030" x="433.815" y="474.725839" transform="rotate(-0 433.815 474.725839)">Model Precision</text>
</g>
<g id="legend_6">
<g id="patch_37">
<path d="M 333.011521 500.191574
L 365.477856 500.191574
Q 366.652577 500.191574 366.652577 499.016854
L 366.652577 482.361521
Q 366.652577 481.186801 365.477856 481.186801
L 333.011521 481.186801
Q 331.836801 481.186801 331.836801 482.361521
L 331.836801 499.016854
Q 331.836801 500.191574 333.011521 500.191574
z
" style="fill: #ffffff; opacity: 0.8; stroke: #cccccc; stroke-width: 0.58736; stroke-linejoin: miter"/>
</g>
<g id="line2d_104">
<path d="M 334.186242 485.943501
L 340.059844 485.943501
L 345.933446 485.943501
" style="fill: none; stroke: #148c14; stroke-width: 1.17472; stroke-linecap: square"/>
</g>
<g id="text_110">
<text style="font-size: 5.873602px; font-family: 'DejaVu Sans'; text-anchor: start; fill: #303030" x="350.632327" y="487.999262" transform="rotate(-0 350.632327 487.999262)">train</text>
</g>
<g id="line2d_105">
<path d="M 334.186242 494.564847
L 340.059844 494.564847
L 345.933446 494.564847
" style="fill: none; stroke: #0a0aff; stroke-width: 1.17472; stroke-linecap: square"/>
</g>
<g id="text_111">
<text style="font-size: 5.873602px; font-family: 'DejaVu Sans'; text-anchor: start; fill: #303030" x="350.632327" y="496.620608" transform="rotate(-0 350.632327 496.620608)">val</text>
</g>
</g>
</g>
</g>
<defs>
<clipPath id="p39e937fc63">
<rect x="31.38" y="16.25" width="223.98" height="167.28"/>
</clipPath>
<clipPath id="pbb9176d146">
<rect x="318.55" y="17.56" width="220.83" height="164.71"/>
</clipPath>
<clipPath id="p3941dd5a0d">
<rect x="33.53" y="249.47" width="212.72" height="158.89"/>
</clipPath>
<clipPath id="p610da3b4ec">
<rect x="324.45" y="247.64" width="213.91" height="159.91"/>
</clipPath>
<clipPath id="pcd44524e48">
<rect x="33.75" y="474.18" width="214.35" height="160.18"/>
</clipPath>
<clipPath id="p84dc06864a">
<rect x="328.9" y="478.25" width="209.83" height="156.25"/>
</clipPath>
</defs>
<text x="146.3" y="218.0" text-anchor="middle" style="font-family:'Liberation Sans',Arial,sans-serif;font-size:9.30px;fill:#303030">(a)</text>
<text x="433.1" y="218.6" text-anchor="middle" style="font-family:'Liberation Sans',Arial,sans-serif;font-size:9.30px;fill:#303030">(b)</text>
<text x="142.0" y="443.0" text-anchor="middle" style="font-family:'Liberation Sans',Arial,sans-serif;font-size:9.30px;fill:#303030">(c)</text>
<text x="434.2" y="442.1" text-anchor="middle" style="font-family:'Liberation Sans',Arial,sans-serif;font-size:9.30px;fill:#303030">(d)</text>
<text x="142.0" y="673.5" text-anchor="middle" style="font-family:'Liberation Sans',Arial,sans-serif;font-size:9.30px;fill:#303030">(e)</text>
<text x="437.0" y="668.5" text-anchor="middle" style="font-family:'Liberation Sans',Arial,sans-serif;font-size:9.30px;fill:#303030">(f)</text>
</g></svg>

</div></body></html>
